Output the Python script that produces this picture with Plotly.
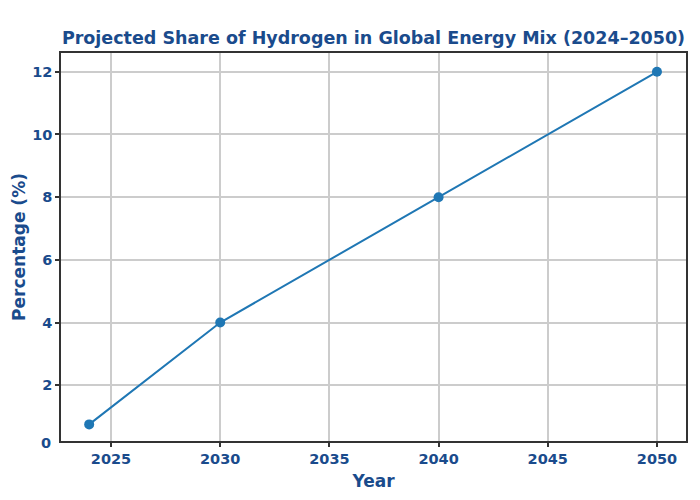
import plotly.graph_objects as go

years = [2024, 2030, 2040, 2050]
share = [0.75, 4.0, 8.0, 12.0]
title_text = "Projected Share of Hydrogen in Global Energy Mix (2024–2050)"
x_title = "Year"
y_title = "Percentage (%)"
x_ticks = [2025, 2030, 2035, 2040, 2045, 2050]
y_ticks = [2, 4, 6, 8, 10, 12]

TEXT = "#1a4b8c"
LINE = "#1f77b4"
FONT = "DejaVu Sans"

fig = go.Figure()
fig.add_trace(go.Scatter(
    x=years, y=share, mode="lines+markers",
    line=dict(color=LINE, width=2),
    marker=dict(color=LINE, size=10),
    showlegend=False,
))

axis_common = dict(
    showline=True, linecolor="#333333", linewidth=1.5, mirror=True,
    showgrid=True, gridcolor="#cccccc", gridwidth=1.5,
    ticks="outside", ticklen=4, tickcolor="#333333", tickwidth=1.5,
    tickfont=dict(family=FONT, size=14.5, color=TEXT, weight="bold"),
    zeroline=False, automargin=False,
)

fig.update_layout(
    width=692, height=492,
    paper_bgcolor="white", plot_bgcolor="white",
    margin=dict(l=53, r=14, t=45, b=59),
    title=dict(text=title_text, x=0.5, xref="paper", xanchor="center", y=1, yref="container",
               yanchor="top", pad=dict(t=24),
               font=dict(family=FONT, size=17.5, color=TEXT, weight="bold")),
    xaxis=dict(range=[2022.71, 2051.33], tickvals=x_ticks,
               title=dict(text=x_title, standoff=9,
                          font=dict(family=FONT, size=17, color=TEXT, weight="bold")),
               **axis_common),
    yaxis=dict(range=[0.22, 12.6], tickvals=y_ticks,
               title=dict(text=y_title, standoff=2,
                          font=dict(family=FONT, size=17, color=TEXT, weight="bold")),
               **axis_common),
)

fig.add_annotation(text="0", xref="paper", yref="paper", x=0, y=0,
                   xanchor="right", yanchor="middle", xshift=-8, yshift=-2,
                   showarrow=False,
                   font=dict(family=FONT, size=14.5, color=TEXT, weight="bold"))

fig.write_html("out.html")
